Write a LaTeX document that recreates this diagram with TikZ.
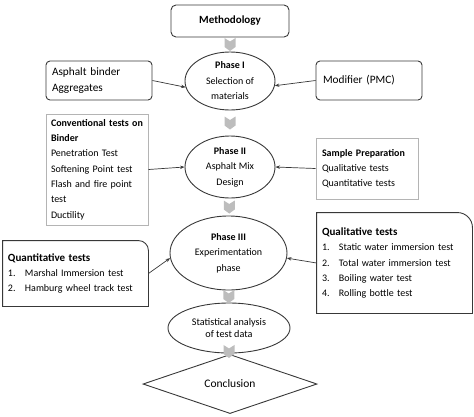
\documentclass[tikz,border=0pt]{standalone}
\usepackage{fontspec}
\setmainfont{Carlito}
\usepackage{tikz}
\usetikzlibrary{calc, positioning, shapes, arrows.meta}
\definecolor{edge}{HTML}{383838}
\definecolor{pale}{HTML}{B4B4B4}
\definecolor{chevgray}{HTML}{BDBDBD}
\newcommand{\lnum}[1]{\makebox[17pt][l]{#1}}
\tikzset{
    box/.style = {rectangle, draw=edge, line width=0.9pt, align=left, inner ysep=0pt, font=\fontsize{10}{15.3}\selectfont}, % plain text box
    rbox/.style = {box, rounded corners=4pt},
    pbox/.style = {box, draw=pale, line width=1pt}, % pale outline box
    phase/.style = {ellipse, draw=edge, line width=0.9pt, inner sep=0pt, align=center, font=\fontsize{10}{15.5}\selectfont},
    feed/.style = {draw=edge, line width=0.7pt, -{Stealth[length=4.5pt, width=3.4pt]}},
    chev/.pic = {\fill[chevgray] (-5.5,-6.5) -- (0,-3) -- (5.5,-6.5) -- (5.5,2.5) -- (0,6.5) -- (-5.5,2.5) -- cycle;}
}

\begin{document}
\begin{tikzpicture}
            [x=1pt, y=-1pt,
            decision/.style={diamond, draw=edge, line width=0.9pt, inner sep=0pt, font=\fontsize{11.5}{14}\selectfont},
            tabline/.style={draw=edge, line width=0.9pt}]
            \useasboundingbox (0,0) rectangle (474,416);
            % centre column
            \node [rbox, rounded corners=5pt, minimum width=118, minimum height=32, align=center, font=\fontsize{11}{13}\selectfont\bfseries] (meth) at (230,21) {Methodology};
            \node [phase, minimum width=90, minimum height=58] (ph1) at (230,81) {\textbf{Phase I}\\Selection of\\materials};
            \node [phase, minimum width=90, minimum height=62] (ph2) at (230,167) {\textbf{Phase II}\\Asphalt Mix\\Design};
            \node [phase, minimum width=117, minimum height=74] (ph3) at (228.5,253) {\textbf{Phase III}\\Experimentation\\phase};
            \node [phase, minimum width=122, minimum height=50, font=\fontsize{10.2}{12.5}\selectfont] (stat) at (229,328) {Statistical analysis\\of test data};
            \node [decision, minimum width=174, minimum height=52] (conc) at (230,384) {Conclusion};
            % side boxes
            \node [rbox, text width=94, inner xsep=6, minimum height=39, font=\fontsize{11.3}{16}\selectfont] (asp) at (99,80.5) {Asphalt binder\\Aggregates};
            \node [rbox, text width=92, inner xsep=7, minimum height=39, font=\fontsize{11.3}{16}\selectfont] (mod) at (369,80.5) {Modifier (PMC)};
            \node [pbox, text width=92, inner xsep=5, minimum height=111] (conv) at (97,169.5) {\textbf{Conventional tests on}\\\textbf{Binder}\\Penetration Test\\Softening Point test\\Flash and fire point\\test\\Ductility};
            \node [pbox, text width=90, inner xsep=6, minimum height=61] (samp) at (367,168.5) {\textbf{Sample Preparation}\\Qualitative tests\\Quantitative tests};
            \node [box, draw=none, text width=135, inner xsep=5, minimum height=65] (quant) at (75.5,273.5) {{\fontsize{11}{15.3}\selectfont\textbf{Quantitative tests}}\\\lnum{1.}Marshal Immersion test\\\lnum{2.}Hamburg wheel track test};
            \node [box, draw=none, text width=145, inner xsep=5, minimum height=100] (qual) at (394.5,263) {{\fontsize{11}{15.3}\selectfont\textbf{Qualitative tests}}\\\lnum{1.}Static water immersion test\\\lnum{2.}Total water immersion test\\\lnum{3.}Boiling water test\\\lnum{4.}Rolling bottle test};
            % outlines with one round corner
            \draw [tabline] (quant.south west) -- (quant.north west) -- ([xshift=-10pt]quant.north east) arc[start angle=90, end angle=0, radius=10pt] -- (quant.south east) -- cycle;
            \draw [tabline] (qual.south west) -- (qual.north west) -- ([xshift=-15pt]qual.north east) arc[start angle=90, end angle=0, radius=15pt] -- (qual.south east) -- cycle;
            % grey chevrons down the middle
            \foreach \a/\b in {meth/ph1, ph1/ph2, ph2/ph3, ph3/stat}
                \pic at ($(\a.south)!.5!(\b.north)$) {chev};
            \pic at ($(stat.south)+(0,-2)$) {chev};
            % inputs
            \draw [feed] (asp.east) -- (ph1.188);
            \draw [feed] (mod.west) -- (ph1.354);
            \draw [feed] (conv.east) -- (ph2.west);
            \draw [feed] (samp.west) -- (ph2.east);
            \draw [feed] (quant.east) -- (ph3.185);
            \draw [feed] (qual.west) -- (ph3.355);
        \end{tikzpicture}
\end{document}
